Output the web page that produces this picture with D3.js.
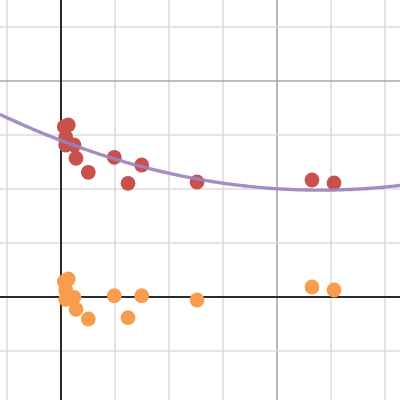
<!DOCTYPE html>
<html>
<head>
<meta charset="utf-8">
<script src="https://cdn.jsdelivr.net/npm/d3@7"></script>
<style>
  body { margin: 0; background: #fff; }
  svg { display: block; }
</style>
</head>
<body>
<div id="chart"></div>
<script>
const xValues = [0.135, 0.061, 0.087, 0.087, 0.241, 0.278, 0.506, 0.987, 1.241, 1.494, 2.519, 4.648, 5.056];
const yValues = [3.185, 3.154, 2.963, 2.815, 2.815, 2.569, 2.309, 2.587, 2.106, 2.444, 2.130, 2.167, 2.111];
const residuals = [0.333, 0.283, 0.130, -0.043, -0.006, -0.228, -0.407, 0.024, -0.383, 0.024, -0.056, 0.185, 0.130];

// fitted quadratic y = c0 + c1 x + c2 x^2
const c0 = 2.898;
const c1 = -0.383;
const c2 = 0.0399;

const width = 400;
const height = 400;
const unit = 54;

const xScale = d3.scaleLinear()
    .domain([-61 / unit, (width - 61) / unit])
    .range([0, width]);

const yScale = d3.scaleLinear()
    .domain([297 / unit, (297 - height) / unit])
    .range([0, height]);

const svg = d3.select('#chart').append('svg')
    .attr('width', width)
    .attr('height', height);

// grid
const gridX = d3.range(Math.ceil(xScale.domain()[0]), Math.floor(xScale.domain()[1]) + 1);
const gridY = d3.range(Math.ceil(yScale.domain()[1]), Math.floor(yScale.domain()[0]) + 1);

const isMajor = v => v !== 0 && v % 4 === 0;

const grid = svg.append('g').attr('class', 'grid');

grid.selectAll('line.vx')
    .data(gridX.filter(v => v !== 0))
    .enter().append('line')
    .attr('x1', d => xScale(d)).attr('x2', d => xScale(d))
    .attr('y1', 0).attr('y2', height)
    .attr('stroke', d => isMajor(d) ? '#a8a8a8' : '#dcdcdc')
    .attr('stroke-width', 1.6);

grid.selectAll('line.hy')
    .data(gridY.filter(v => v !== 0))
    .enter().append('line')
    .attr('y1', d => yScale(d)).attr('y2', d => yScale(d))
    .attr('x1', 0).attr('x2', width)
    .attr('stroke', d => isMajor(d) ? '#a8a8a8' : '#dcdcdc')
    .attr('stroke-width', 1.6);

// axes
svg.append('line')
    .attr('x1', xScale(0)).attr('x2', xScale(0))
    .attr('y1', 0).attr('y2', height)
    .attr('stroke', '#2b2b2b').attr('stroke-width', 2);
svg.append('line')
    .attr('y1', yScale(0)).attr('y2', yScale(0))
    .attr('x1', 0).attr('x2', width)
    .attr('stroke', '#2b2b2b').attr('stroke-width', 2);

const points = xValues.map((x, i) => ({x: x, y: yValues[i], r: residuals[i]}));

// observed points
svg.append('g').selectAll('circle')
    .data(points)
    .enter().append('circle')
    .attr('cx', d => xScale(d.x))
    .attr('cy', d => yScale(d.y))
    .attr('r', 7.4)
    .attr('fill', '#c8514d');

// residuals
svg.append('g').selectAll('circle')
    .data(points)
    .enter().append('circle')
    .attr('cx', d => xScale(d.x))
    .attr('cy', d => yScale(d.r))
    .attr('r', 7.4)
    .attr('fill', '#f89d4d');

// regression curve
const curveX = d3.range(xScale.domain()[0], xScale.domain()[1] + 0.05, 0.05);
const line = d3.line()
    .x(d => xScale(d))
    .y(d => yScale(c0 + c1 * d + c2 * d * d))
    .curve(d3.curveMonotoneX);

svg.append('path')
    .datum(curveX)
    .attr('d', line)
    .attr('fill', 'none')
    .attr('stroke', '#9a83bd')
    .attr('stroke-opacity', 0.9)
    .attr('stroke-width', 3.4);
</script>
</body>
</html>
